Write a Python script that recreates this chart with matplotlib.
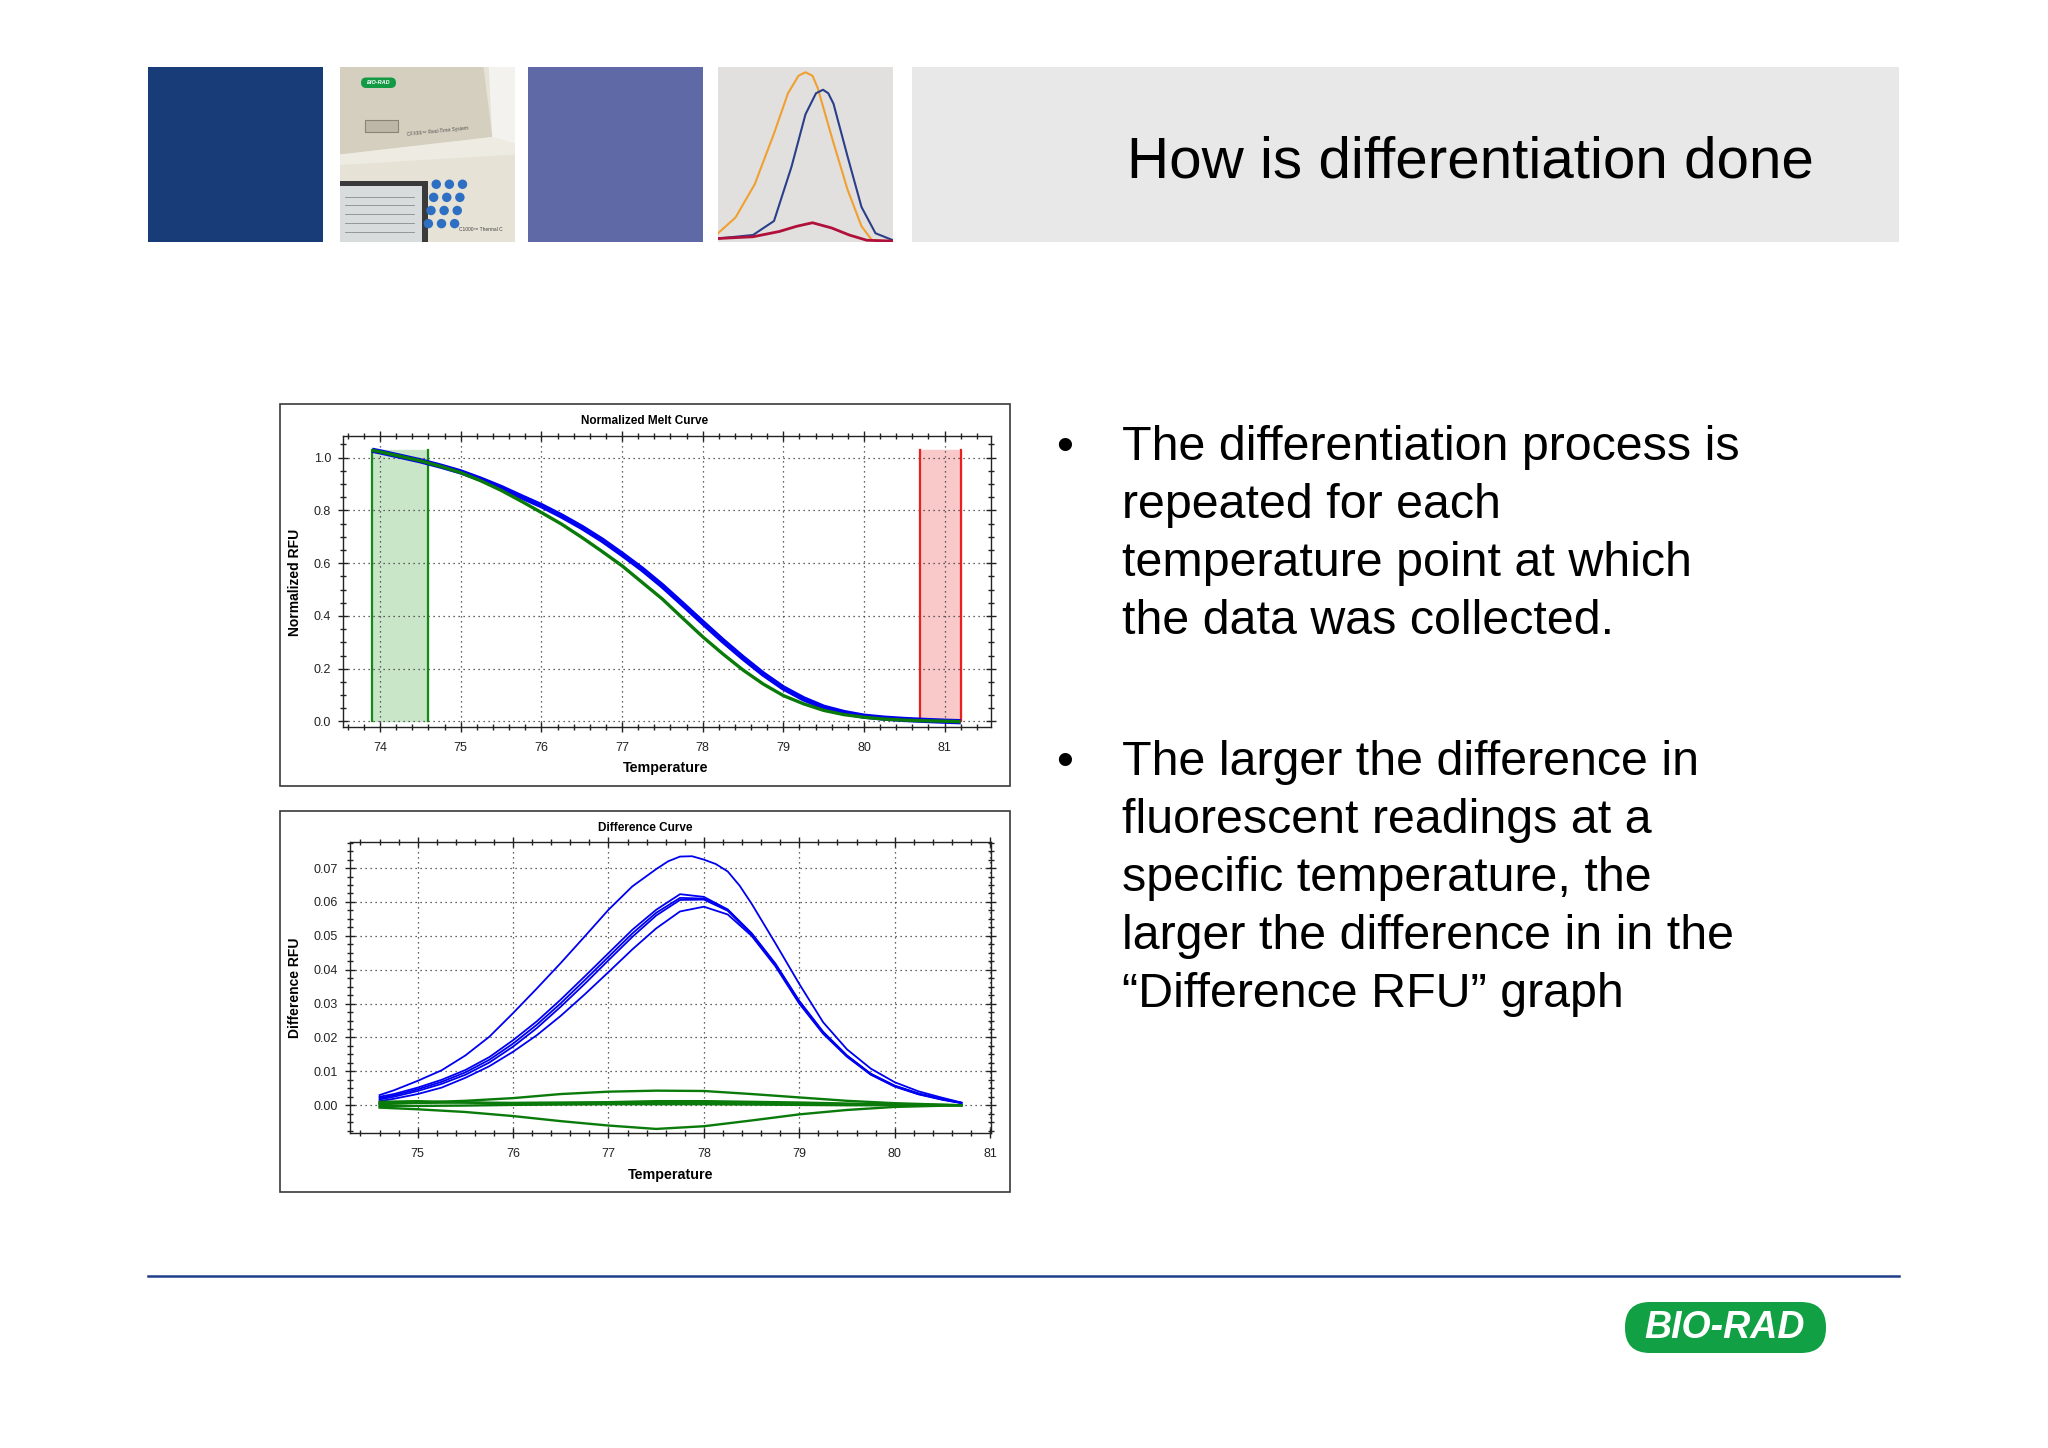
import numpy as np
import matplotlib
matplotlib.use('Agg')
import matplotlib.pyplot as plt
from matplotlib.patches import Rectangle, FancyBboxPatch, Circle, Polygon
from matplotlib.lines import Line2D
from matplotlib.ticker import MultipleLocator

plt.rcParams['font.family'] = ['Liberation Sans', 'DejaVu Sans']

W, H = 2048, 1448

# ---- normalized melt curve
melt_temp = [73.9, 74.0, 74.25, 74.5, 74.75, 75.0, 75.25, 75.5, 75.75, 76.0, 76.25, 76.5, 76.75,
             77.0, 77.25, 77.5, 77.75, 78.0, 78.25, 78.5, 78.75, 79.0, 79.25, 79.5, 79.75,
             80.0, 80.25, 80.5, 80.75, 81.0, 81.2]
melt_blue = [1.028, 1.022, 1.005, 0.988, 0.968, 0.946, 0.918, 0.887, 0.852, 0.818, 0.779, 0.736, 0.688,
             0.634, 0.577, 0.514, 0.445, 0.375, 0.306, 0.241, 0.180, 0.127, 0.086, 0.054, 0.034,
             0.020, 0.0126, 0.0076, 0.004, 0.001, -0.001]
melt_green = [1.028, 1.022, 1.005, 0.988, 0.967, 0.943, 0.912, 0.876, 0.835, 0.792, 0.748, 0.698, 0.645,
              0.590, 0.527, 0.464, 0.392, 0.321, 0.256, 0.195, 0.142, 0.098, 0.067, 0.042, 0.026,
              0.016, 0.009, 0.005, 0.0025, 0.001, -0.001]
green_band = [73.9, 74.6]
red_band = [80.7, 81.2]
band_top = 1.03

# ---- difference curve
diff_temp_top = [74.6, 74.75, 75.0, 75.25, 75.5, 75.75, 76.0, 76.25, 76.5, 76.75, 77.0, 77.25, 77.5, 77.625,
                 77.75, 77.875, 78.0, 78.125, 78.25, 78.375, 78.5, 78.75, 79.0, 79.25, 79.5, 79.75, 80.0,
                 80.25, 80.5, 80.7]
diff_blue1 = [0.0030, 0.0044, 0.0072, 0.0103, 0.0147, 0.0202, 0.0272, 0.0345, 0.0420, 0.0498, 0.0577, 0.0646, 0.0697, 0.0720,
              0.0734, 0.0735, 0.0725, 0.0712, 0.0690, 0.0648, 0.0595, 0.0478, 0.0358, 0.0245, 0.0165, 0.0108, 0.0068,
              0.0041, 0.0022, 0.0008]
diff_temp = [74.6, 74.75, 75.0, 75.25, 75.5, 75.75, 76.0, 76.25, 76.5, 76.75, 77.0, 77.25, 77.5,
             77.75, 78.0, 78.25, 78.5, 78.75, 79.0, 79.25, 79.5, 79.75, 80.0, 80.25, 80.5, 80.7]
diff_blue2 = [0.0025, 0.0033, 0.0052, 0.0075, 0.0104, 0.0142, 0.0192, 0.0248, 0.0312, 0.0380, 0.0449, 0.0518, 0.0577,
              0.0623, 0.0615, 0.0578, 0.0508, 0.0418, 0.0308, 0.0217, 0.0147, 0.0093, 0.0058, 0.0035, 0.0018, 0.0007]
diff_blue3 = [0.0021, 0.0029, 0.0047, 0.0069, 0.0097, 0.0134, 0.0182, 0.0238, 0.0301, 0.0369, 0.0438, 0.0507, 0.0568,
              0.0612, 0.0610, 0.0576, 0.0506, 0.0416, 0.0306, 0.0215, 0.0146, 0.0092, 0.0057, 0.0034, 0.0018, 0.0007]
diff_blue4 = [0.0017, 0.0025, 0.0042, 0.0063, 0.0090, 0.0126, 0.0173, 0.0228, 0.0291, 0.0358, 0.0428, 0.0497, 0.0560,
              0.0606, 0.0607, 0.0574, 0.0504, 0.0413, 0.0303, 0.0213, 0.0145, 0.0091, 0.0056, 0.0033, 0.0017, 0.0007]
diff_blue5 = [0.0012, 0.0019, 0.0033, 0.0052, 0.0081, 0.0115, 0.0158, 0.0207, 0.0264, 0.0327, 0.0393, 0.0460, 0.0522,
              0.0572, 0.0586, 0.0563, 0.0500, 0.0410, 0.0300, 0.0211, 0.0143, 0.0090, 0.0055, 0.0032, 0.0016, 0.0006]

diff_temp_g = [74.6, 75.0, 75.5, 76.0, 76.5, 77.0, 77.5, 78.0, 78.5, 79.0, 79.5, 80.0, 80.7]
diff_green1 = [0.0003, 0.0008, 0.0013, 0.0021, 0.0033, 0.0040, 0.0043, 0.0042, 0.0033, 0.0023, 0.0013, 0.0006, 0.0]
diff_green2 = [-0.0007, -0.0012, -0.0020, -0.0032, -0.0047, -0.0060, -0.0070, -0.0062, -0.0045, -0.0027, -0.0014, -0.0005, 0.0]
diff_green3 = [0.0005, 0.0007, 0.0008, 0.0007, 0.0008, 0.0009, 0.0012, 0.0012, 0.0010, 0.0008, 0.0005, 0.0002, 0.0]
diff_green4 = [0.0010, 0.0012, 0.0008, 0.0004, 0.0004, 0.0005, 0.0007, 0.0007, 0.0006, 0.0004, 0.0002, 0.0001, 0.0]
diff_green5 = [-0.0002, -0.0002, -0.0001, 0.0001, 0.0002, 0.0003, 0.0003, 0.0003, 0.0002, 0.0001, 0.0, 0.0, 0.0]

# ---- little melt-peak picture in the header
mini_x_orange = [0.0, 0.1, 0.21, 0.32, 0.40, 0.46, 0.50, 0.54, 0.57, 0.65, 0.74, 0.82, 0.88, 1.0]
mini_orange = [0.05, 0.14, 0.33, 0.62, 0.85, 0.95, 0.97, 0.95, 0.88, 0.60, 0.30, 0.09, 0.01, 0.005]
mini_x_blue = [0.0, 0.2, 0.32, 0.42, 0.50, 0.56, 0.60, 0.63, 0.66, 0.74, 0.82, 0.90, 1.0]
mini_blue = [0.02, 0.04, 0.12, 0.43, 0.73, 0.85, 0.87, 0.85, 0.79, 0.49, 0.20, 0.05, 0.01]
mini_x_red = [0.0, 0.2, 0.35, 0.45, 0.54, 0.65, 0.75, 0.85, 1.0]
mini_red = [0.02, 0.03, 0.06, 0.09, 0.11, 0.08, 0.04, 0.01, 0.005]

title = 'How is differentiation done'
bullet1 = ['The differentiation process is', 'repeated for each',
           'temperature point at which', 'the data was collected.']
bullet2 = ['The larger the difference in', 'fluorescent readings at a',
           'specific temperature, the', 'larger the difference in in the',
           '\u201cDifference RFU\u201d graph']


def fx(x):
    return x / W


def fy(y):
    return 1 - y / H


def px_axes(x0, y0, x1, y1):
    return fig.add_axes([fx(x0), fy(y1), (x1 - x0) / W, (y1 - y0) / H])


fig = plt.figure(figsize=(W / 100, H / 100), dpi=100)
fig.patch.set_facecolor('white')

# ---- header blocks
fig.add_artist(Rectangle((fx(148), fy(242)), 175 / W, 175 / H, transform=fig.transFigure, fc='#173C78', ec='none'))
fig.add_artist(Rectangle((fx(528), fy(242)), 175 / W, 175 / H, transform=fig.transFigure, fc='#5F69A5', ec='none'))
fig.add_artist(Rectangle((fx(912), fy(242)), 987 / W, 175 / H, transform=fig.transFigure, fc='#E9E8E8', ec='none'))
fig.text(fx(1127), fy(177), title, fontsize=42, ha='left', va='baseline', color='black')

# instrument picture (simplified)
ai = px_axes(340, 67, 515, 242)
ai.set_xlim(0, 1)
ai.set_ylim(1, 0)
ai.axis('off')
ai.add_patch(Rectangle((0, 0), 1, 1, fc='#E6E2D6', ec='none'))
ai.add_patch(Polygon([(0, 0), (0.82, 0), (0.87, 0.40), (0, 0.50)], fc='#D5CFBF', ec='none'))
ai.add_patch(Polygon([(0.85, 0), (1, 0), (1, 0.44), (0.87, 0.40)], fc='#F4F2EE', ec='none'))
ai.add_patch(Polygon([(0, 0.50), (0.87, 0.40), (1, 0.44), (1, 0.50), (0, 0.56)], fc='#EEEBE3', ec='none'))
ai.add_patch(Rectangle((0.14, 0.30), 0.19, 0.07, fc='#BDB7A8', ec='#8A8478', lw=0.8))
ai.add_patch(FancyBboxPatch((0.12, 0.06), 0.2, 0.06, boxstyle='round,pad=0,rounding_size=0.03', fc='#129A45', ec='none'))
ai.text(0.22, 0.09, 'BIO-RAD', fontsize=4, color='white', ha='center', va='center', weight='bold', style='italic')
ai.text(0.38, 0.37, 'CFX96\u2122 Real-Time System', fontsize=3.5, color='#555', rotation=6, ha='left', va='center')
ai.add_patch(Rectangle((0, 0.65), 0.5, 0.35, fc='#3A3A3A', ec='none'))
ai.add_patch(Rectangle((0, 0.68), 0.47, 0.32, fc='#D8DCDC', ec='none'))
for k in range(5):
    ai.plot([0.03, 0.42], [0.74 + 0.05 * k, 0.74 + 0.05 * k], color='#8A8A8A', lw=0.6)
for i in range(4):
    for j in range(3):
        ai.add_patch(Circle((0.55 + 0.075 * j - 0.015 * i, 0.67 + 0.075 * i), 0.027, fc='#2D6FC2', ec='none'))
ai.text(0.68, 0.93, 'C1000\u2122 Thermal C', fontsize=3.5, color='#444', ha='left', va='center')

# melt peak picture
am = px_axes(718, 67, 893, 242)
am.set_xlim(0, 1)
am.set_ylim(0, 1)
am.set_facecolor('#E1E0DF')
for s in am.spines.values():
    s.set_visible(False)
am.set_xticks([])
am.set_yticks([])
am.plot(mini_x_orange, mini_orange, color='#F0A030', lw=1.5)
am.plot(mini_x_blue, mini_blue, color='#2A3F8A', lw=1.5)
am.plot(mini_x_red, mini_red, color='#B0103A', lw=2)

# ---- chart frames
fig.add_artist(Rectangle((fx(280), fy(786)), 730 / W, 382 / H, transform=fig.transFigure, fill=False, ec='#3A3A3A', lw=1.2))
fig.add_artist(Rectangle((fx(280), fy(1192)), 730 / W, 381 / H, transform=fig.transFigure, fill=False, ec='#3A3A3A', lw=1.2))


def style_axes(ax, xmaj, xmin, ymaj, ymin, xpad, ypad):
    ax.xaxis.set_major_locator(MultipleLocator(xmaj))
    ax.xaxis.set_minor_locator(MultipleLocator(xmin))
    ax.yaxis.set_major_locator(MultipleLocator(ymaj))
    ax.yaxis.set_minor_locator(MultipleLocator(ymin))
    ax.tick_params(which='both', direction='inout', top=True, right=True, width=1, colors='#222')
    ax.tick_params(which='major', length=7, labelsize=9)
    ax.tick_params(which='minor', length=4)
    ax.tick_params(axis='x', pad=xpad)
    ax.tick_params(axis='y', pad=ypad)
    ax.grid(which='major', color='#333', linestyle=(0, (1, 3)), lw=0.9)
    for s in ax.spines.values():
        s.set_color('#222')
        s.set_linewidth(1)


# ---- normalized melt curve
ax1 = px_axes(343, 436, 991, 727)
ax1.set_xlim(73.54, 81.575)
ax1.set_ylim(-0.021, 1.082)
style_axes(ax1, 1, 0.2, 0.2, 0.05, 7, 5)
ax1.yaxis.set_major_formatter(plt.FormatStrFormatter('%.1f'))
ax1.fill_between(green_band, 0, band_top, color='#C9E6C9', zorder=1)
ax1.fill_between(red_band, 0, band_top, color='#F9C8C8', zorder=1)
for xv in green_band:
    ax1.plot([xv, xv], [0, band_top], color='#158A15', lw=1.6, zorder=2)
for xv in red_band:
    ax1.plot([xv, xv], [0, band_top], color='#E8201E', lw=1.6, zorder=2)
ax1.plot(melt_temp, melt_blue, color='#0000F0', lw=3.8, zorder=3, solid_capstyle='butt')
ax1.plot(melt_temp, melt_green, color='#0A7A0A', lw=2.4, zorder=4, solid_capstyle='butt')
fig.text(fx(645), fy(421), 'Normalized Melt Curve', fontsize=8.5, weight='bold', ha='center', va='center')
fig.text(fx(666), fy(768), 'Temperature', fontsize=10.3, weight='bold', ha='center', va='center')
fig.text(fx(295), fy(582), 'Normalized RFU', fontsize=10, weight='bold', ha='center', va='center', rotation=90)

# ---- difference curve
ax2 = px_axes(350, 842, 991, 1133)
ax2.set_xlim(74.29, 81.01)
ax2.set_ylim(-0.0082, 0.0777)
style_axes(ax2, 1, 0.2, 0.01, 0.0025, 7, 5)
ax2.yaxis.set_major_formatter(plt.FormatStrFormatter('%.2f'))
ax2.plot(diff_temp_top, diff_blue1, color='#0000F0', lw=1.3, zorder=3)
for ys in [diff_blue2, diff_blue3, diff_blue4, diff_blue5]:
    ax2.plot(diff_temp, ys, color='#0000F0', lw=1.3, zorder=3)
for ys in [diff_green1, diff_green2, diff_green3, diff_green4, diff_green5]:
    ax2.plot(diff_temp_g, ys, color='#0A7A0A', lw=1.7, zorder=4)
fig.text(fx(645), fy(828), 'Difference Curve', fontsize=8.5, weight='bold', ha='center', va='center')
fig.text(fx(671), fy(1175), 'Temperature', fontsize=10.3, weight='bold', ha='center', va='center')
fig.text(fx(295), fy(988), 'Difference RFU', fontsize=10, weight='bold', ha='center', va='center', rotation=90)

# ---- bullet text
for i, line in enumerate(bullet1):
    fig.text(fx(1122), fy(460 + 58 * i), line, fontsize=34.8, ha='left', va='baseline')
fig.text(fx(1056), fy(460), '\u2022', fontsize=34.8, ha='left', va='baseline')
for i, line in enumerate(bullet2):
    fig.text(fx(1122), fy(775 + 58.1 * i), line, fontsize=34.8, ha='left', va='baseline')
fig.text(fx(1056), fy(775), '\u2022', fontsize=34.8, ha='left', va='baseline')

# ---- footer
fig.add_artist(Line2D([fx(148), fx(1899)], [fy(1276), fy(1276)], transform=fig.transFigure, color='#1F3F8A', lw=1.8))
al = px_axes(1620, 1296, 1832, 1360)
al.set_xlim(1620, 1832)
al.set_ylim(1360, 1296)
al.axis('off')
al.add_patch(FancyBboxPatch((1625, 1302), 201, 51, boxstyle='round,pad=0,rounding_size=25', fc='#11A043', ec='none'))
al.text(1725, 1328, 'BIO-RAD', fontsize=27, color='white', weight='bold', style='italic', ha='center', va='center')

fig.savefig('out.png', dpi=100)
